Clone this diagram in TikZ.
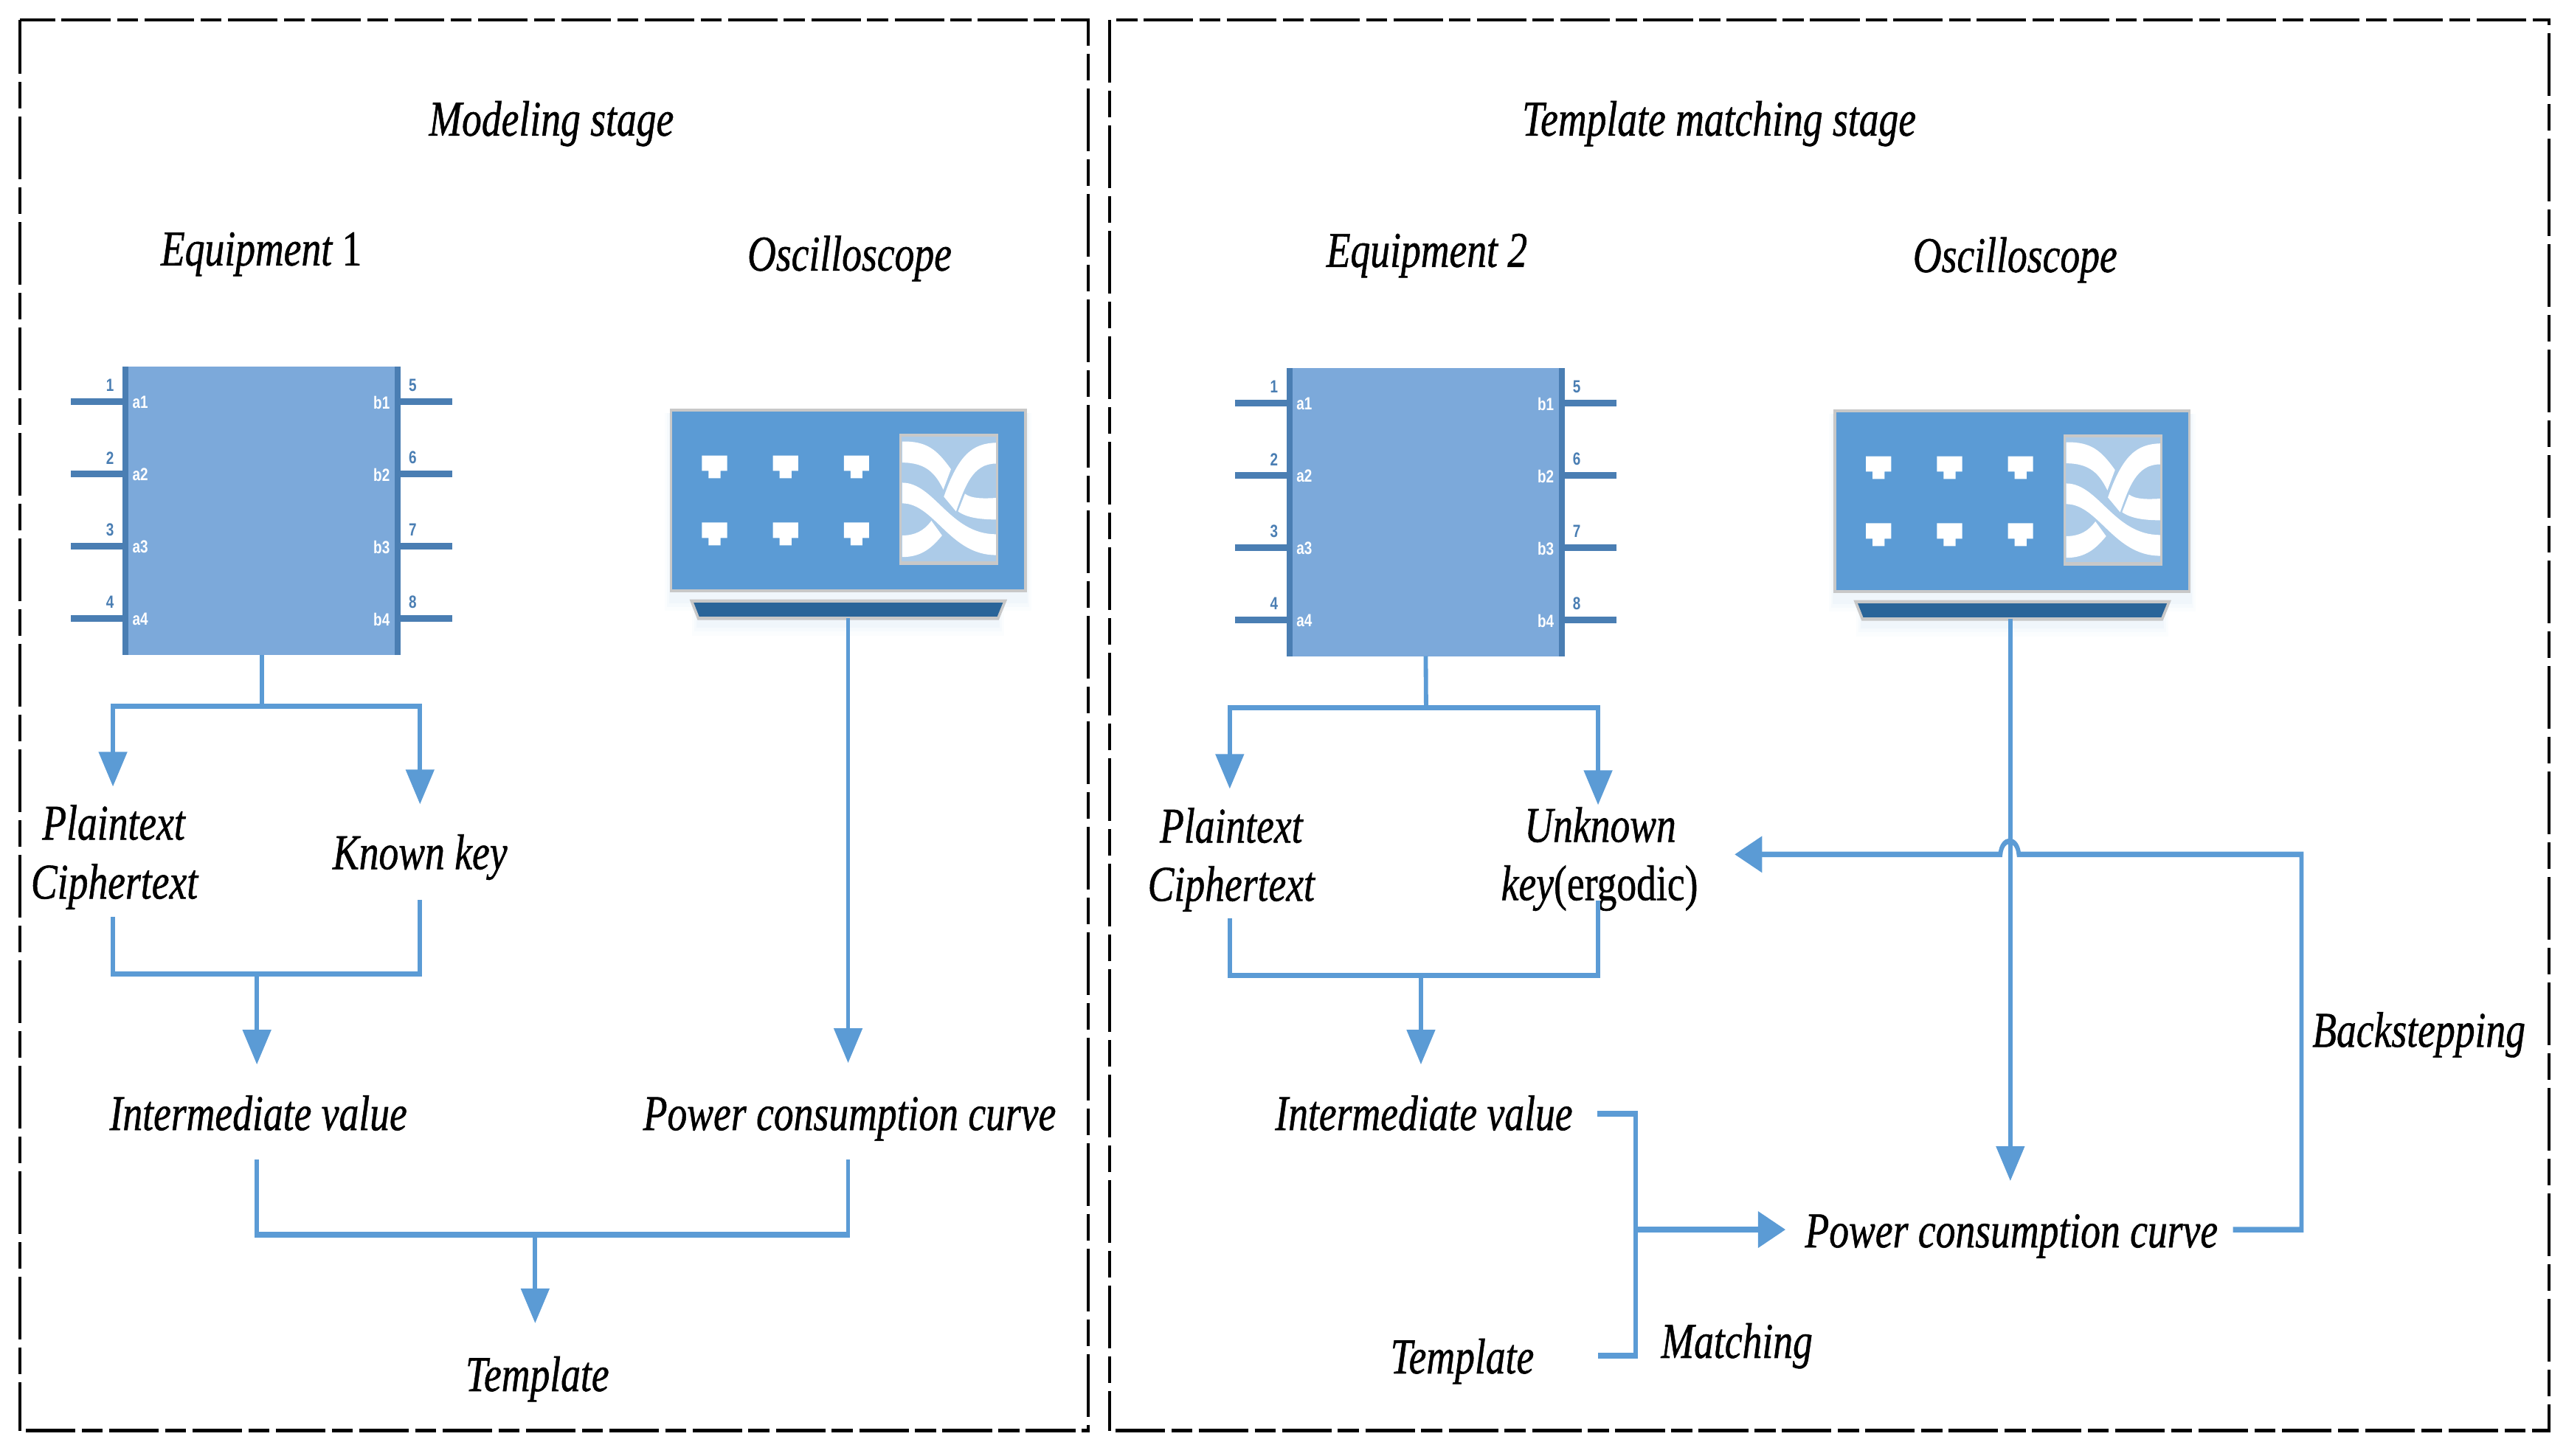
\documentclass[tikz,border=0pt]{standalone}
\usepackage{fontspec}
\setmainfont{Liberation Serif}[FakeBold=0.9,ItalicFeatures={FakeBold=0.9}]
\newfontfamily\chipfont{Liberation Sans}
\usetikzlibrary{arrows.meta}
\definecolor{linkblue}{HTML}{5B9BD5}
\definecolor{chipbody}{HTML}{7CA9DA}
\definecolor{chippin}{HTML}{4A7EB3}
\definecolor{oscgray}{HTML}{C8C8C8}
\definecolor{oscdark}{HTML}{2A6599}
\definecolor{oscwin}{HTML}{ACCBE8}
\definecolor{oscshadow}{HTML}{5B9BD5}
\tikzset{
  framea/.style={black,line width=1.42pt,dash pattern=on 24.18pt off 3.13pt on 10.24pt off 3.13pt},
  frameb/.style={black,line width=1.42pt},
  conn/.style={linkblue,line width=2.1pt,line join=miter},
  arrow/.style={conn,-{Triangle[length=13.4pt,width=13.6pt]}},
  lab/.style={anchor=base,font=\fontsize{19.3pt}{22pt}\selectfont\itshape,inner sep=0pt,text=black},
  pinnum/.style={font=\chipfont\bfseries\fontsize{6.8pt}{8pt}\selectfont,text=chippin,inner sep=0pt},
  pinlab/.style={font=\chipfont\bfseries\fontsize{6.8pt}{8pt}\selectfont,text=white,inner sep=0pt},
  pin/.style={chippin,line width=2.6pt},
  port/.style={fill=white,draw=none},
  band/.style={fill=white,draw=none}
}
% chip: prefix, dx, dy
\newcommand{\chipdraw}[3]{%
\begin{scope}[shift={(#2,#3)}]
  \fill[chipbody] (174,497) rectangle (535,888);
  \fill[chippin] (166,497) rectangle (174,888);
  \fill[chippin] (535,497) rectangle (543,888);
  \node[minimum width=0pt,inner sep=0pt] (#1) at (354.5,692.5) {};
  \coordinate (#1s) at (354.5,888);
  \foreach \yy/\aa/\bb/\nl/\nr in {545/a1/b1/1/5,643/a2/b2/2/6,741/a3/b3/3/7,839/a4/b4/4/8}{
    \draw[pin] (96,\yy) -- (166,\yy);
    \draw[pin] (543,\yy) -- (613,\yy);
    \node[pinnum] (#1n\nl) at (149,\yy-22) {\nl};
    \node[pinnum] (#1n\nr) at (559,\yy-22) {\nr};
    \node[pinlab] (#1l\aa) at (190,\yy+1) {\aa};
    \node[pinlab] (#1l\bb) at (517,\yy+1) {\bb};
  }
\end{scope}}
% oscilloscope: prefix, dx, dy; inner coordinates are crop coordinates
\newcommand{\oscdraw}[3]{%
\begin{scope}[shift={(#2,#3)}]
\begin{scope}[shift={(880,530)},x=0.004359cm,y=-0.003333cm]
  \foreach \ee/\oo in {24/0.025,16/0.03,8/0.04}{
    \fill[oscshadow,opacity=\oo] (84-\ee,79+12) rectangle (1478+\ee,850+\ee*2);
    \fill[oscshadow,opacity=\oo] (192-\ee,857) rectangle (1370+\ee,950+\ee*2);
  }
  \draw[oscgray,fill=linkblue,line width=1.25pt] (84,79) rectangle (1478,815);
  \draw[oscgray,fill=oscdark,line width=1.25pt] (165,857) -- (1398,857) -- (1370,928) -- (192,928) -- cycle;
  \foreach \px in {206,485,764}{
    \foreach \py in {264,537}{
      \fill[port] (\px,\py) -- ++(99,0) -- ++(0,63) -- ++(-26,0) -- ++(0,30) -- ++(-47,0) -- ++(0,-30) -- ++(-26,0) -- cycle;
    }
  }
  \fill[oscwin] (987,181) rectangle (1367,703);
  \fill[band] (993,207) .. controls (1090,205) and (1130,240) .. (1185,320) -- (1155,403) .. controls (1125,340) and (1090,293) .. (993,293) -- cycle;
  \fill[band] (1362,212) .. controls (1270,215) and (1215,260) .. (1157,432) -- (1205,492) .. controls (1240,390) and (1270,297) .. (1362,297) -- cycle;
  \fill[band] (993,375) .. controls (1120,375) and (1180,585) .. (1362,585) -- (1362,670) .. controls (1180,670) and (1120,459) .. (993,459) -- cycle;
  \fill[band] (1362,437) .. controls (1310,440) and (1265,440) .. (1240,420) -- (1213,492) .. controls (1250,520) and (1310,525) .. (1362,525) -- cycle;
  \fill[band] (993,590) .. controls (1045,590) and (1080,570) .. (1108,530) -- (1150,590) .. controls (1110,640) and (1070,678) .. (993,678) -- cycle;
  \draw[oscgray,line width=1.25pt] (987,181) rectangle (1367,703);
\end{scope}
\end{scope}}
\begin{document}
\begin{tikzpicture}
\useasboundingbox (0,0) rectangle (34.78cm,-19.73cm);
\begin{scope}[transform canvas={xscale=0.79},x=0.012658cm,y=-0.01cm]
% ---- frames
\draw[frameb] (27,27) -- (75,27);
\draw[framea] (83,27) -- (1476,27);
\draw[framea,dash phase=3.4pt] (27,27) -- (27,1941);
\draw[frameb] (1474,27) -- (1474,62);
\draw[frameb] (1474,73) -- (1474,109);
\draw[framea] (1474,120) -- (1474,1941);
\draw[framea] (35,1941) -- (1476,1941);
\draw[frameb] (1512,27) -- (1541,27);
\draw[framea] (1549,27) -- (3455,27);
\draw[framea] (1503,27) -- (1503,1941);
\draw[frameb] (3453,27) -- (3453,34);
\draw[framea] (3453,45) -- (3453,1941);
\draw[framea] (1511,1941) -- (3455,1941);
% ---- devices
\chipdraw{chipA}{0}{0}
\chipdraw{chipB}{1577}{2}
\oscdraw{oscA}{0}{0}
\oscdraw{oscB}{1577}{1}
\coordinate (oscAb) at (1149,838);
\coordinate (oscBb) at (2723.5,839);
% ---- labels
\node[lab] (title1) at (747,184) {Modeling stage};
\node[lab] (title2) at (2329,184) {Template matching stage};
\node[lab] (eq1) at (354,360) {Equipment {\upshape 1}};
\node[lab] (eq2) at (1933,362) {Equipment 2};
\node[lab] (os1) at (1151,367) {Oscilloscope};
\node[lab] (os2) at (2730,369) {Oscilloscope};
\node[lab] (pt1) at (154,1139) {Plaintext};
\node[lab] (ct1) at (155,1219) {Ciphertext};
\node[lab] (kk) at (569,1179) {Known key};
\node[lab] (iv1) at (350,1533) {Intermediate value};
\node[lab] (pc1) at (1151,1533) {Power consumption curve};
\node[lab] (tp1) at (728,1887) {Template};
\node[lab] (pt2) at (1668,1143) {Plaintext};
\node[lab] (ct2) at (1668,1222) {Ciphertext};
\node[lab] (uk1) at (2168,1142) {Unknown};
\node[lab] (uk2) at (2167,1221) {key{\upshape(ergodic)}};
\node[lab] (iv2) at (1929,1533) {Intermediate value};
\node[lab] (tp2) at (1981,1863) {Template};
\node[lab] (pc2) at (2725,1692) {Power consumption curve};
\node[lab] (mt) at (2353,1842) {Matching};
\node[lab] (bs) at (3277,1420) {Backstepping};
% ---- left connectors
\coordinate (a1) at (354.5,958);
\coordinate (a2) at (153,958);
\coordinate (a3) at (569,958);
\coordinate (a2t) at (153,1067);
\coordinate (a3t) at (569,1091);
\draw[conn] (chipAs) -- (a1);
\draw[arrow] (a1) -- (a2) -- (a2t);
\draw[arrow] (a1) -- (a3) -- (a3t);
\coordinate (b1) at (153,1244);
\coordinate (b2) at (569,1221);
\coordinate (b3) at (153,1321);
\coordinate (b4) at (569,1321);
\coordinate (b5) at (348,1321);
\coordinate (b6) at (348,1444);
\draw[conn] (b1) -- (b3) -- (b4) -- (b2);
\draw[arrow] (b5) -- (b6);
\coordinate (c1) at (1149,1442);
\draw[arrow] (oscAb) -- (c1);
\coordinate (d1) at (348,1573);
\coordinate (d2) at (1149,1573);
\coordinate (d3) at (348,1675);
\coordinate (d4) at (1149,1675);
\coordinate (d5) at (725,1675);
\coordinate (d6) at (725,1795);
\draw[conn] (d1) -- (d3) -- (d4) -- (d2);
\draw[arrow] (d5) -- (d6);
% ---- right connectors
\coordinate (e1) at (1932,960);
\coordinate (e2) at (1666,960);
\coordinate (e3) at (2165,960);
\coordinate (e2t) at (1666,1070);
\coordinate (e3t) at (2165,1092);
\draw[conn] (chipBs) -- (e1);
\draw[arrow] (e1) -- (e2) -- (e2t);
\draw[arrow] (e1) -- (e3) -- (e3t);
\coordinate (f1) at (1666,1246);
\coordinate (f2) at (2165,1222);
\coordinate (f3) at (1666,1323);
\coordinate (f4) at (2165,1323);
\coordinate (f5) at (1925,1323);
\coordinate (f6) at (1925,1444);
\draw[conn] (f1) -- (f3) -- (f4) -- (f2);
\draw[arrow] (f5) -- (f6);
\coordinate (g1) at (2723.5,1602);
\draw[arrow] (oscBb) -- (g1);
\coordinate (h1) at (2164,1511);
\coordinate (h2) at (2216,1511);
\coordinate (h3) at (2216,1839);
\coordinate (h4) at (2165,1839);
\coordinate (h5) at (2216,1668);
\coordinate (h6) at (2419,1668);
\draw[conn] (h1) -- (h2) -- (h3) -- (h4);
\draw[arrow] (h5) -- (h6);
\coordinate (i1) at (3025,1668);
\coordinate (i2) at (3118,1668);
\coordinate (i3) at (3118,1159);
\coordinate (i4) at (2735,1159);
\coordinate (i5) at (2710,1159);
\coordinate (i6) at (2350,1159);
\draw[arrow] (i1) -- (i2) -- (i3) -- (i4) .. controls (2733,1135) and (2712,1135) .. (i5) -- (i6);
\end{scope}
\end{tikzpicture}
\end{document}
